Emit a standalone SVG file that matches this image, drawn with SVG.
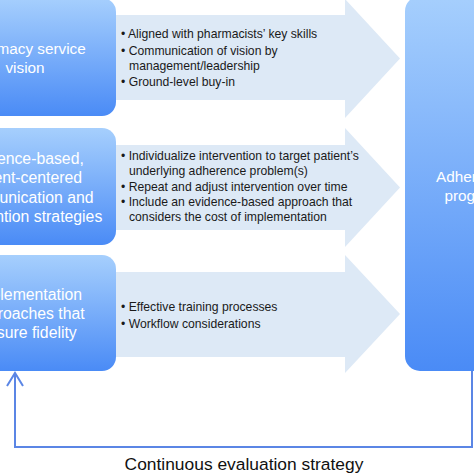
<svg xmlns="http://www.w3.org/2000/svg" width="474" height="474" viewBox="0 0 474 474">
<defs>
<linearGradient id="g" x1="0" y1="0" x2="0" y2="1">
<stop offset="0" stop-color="#a6cffd"/>
<stop offset="1" stop-color="#4a8bf6"/>
</linearGradient>
<style>
.box{fill:url(#g);}
.arr{fill:#dde9f6;}
.bt{font-family:"Liberation Sans",Arial,sans-serif;font-size:15.3px;fill:#ffffff;text-anchor:middle;}
.bt2{font-size:15.8px;}
.li{font-family:"Liberation Sans",Arial,sans-serif;font-size:12.2px;fill:#1a1a1a;}
.con{fill:none;stroke:#5b86e5;stroke-width:2;}
.lab{font-family:"Liberation Sans",Arial,sans-serif;font-size:17.4px;fill:#111111;text-anchor:middle;}
</style>
</defs>
<rect width="474" height="474" fill="#ffffff"/>
<g id="arrow1">
<polygon class="arr" points="100,15 345,15 345,-1 400,58.5 345,118 345,100 100,100"/>
<text class="li"><tspan x="121" y="37.5">• Aligned with pharmacists’ key skills</tspan><tspan x="121" y="54.5">• Communication of vision by</tspan><tspan x="129" y="69.5">management/leadership</tspan><tspan x="121" y="86">• Ground-level buy-in</tspan></text>
</g>
<g id="arrow2">
<polygon class="arr" points="100,145 345,145 345,128 400,187.5 345,247 345,230 100,230"/>
<text class="li"><tspan x="121" y="159.5">• Individualize intervention to target patient’s</tspan><tspan x="129" y="174.5">underlying adherence problem(s)</tspan><tspan x="121" y="190.5">• Repeat and adjust intervention over time</tspan><tspan x="121" y="206">• Include an evidence-based approach that</tspan><tspan x="129" y="221">considers the cost of implementation</tspan></text>
</g>
<g id="arrow3">
<polygon class="arr" points="100,272 345,272 345,255 400,314 345,373 345,357 100,357"/>
<text class="li"><tspan x="121" y="311">• Effective training processes</tspan><tspan x="121" y="328">• Workflow considerations</tspan></text>
</g>
<g id="box1">
<rect class="box" x="-65" y="-2" width="181" height="118" rx="14"/>
<text class="bt"><tspan x="25" y="54">Pharmacy service</tspan><tspan x="25" y="73">vision</tspan></text>
</g>
<g id="box2">
<rect class="box" x="-65" y="128" width="181" height="117" rx="14"/>
<text class="bt bt2"><tspan x="25" y="163.5">Evidence-based,</tspan><tspan x="25" y="183">patient-centered</tspan><tspan x="25" y="202.5">communication and</tspan><tspan x="25" y="222">intervention strategies</tspan></text>
</g>
<g id="box3">
<rect class="box" x="-65" y="255" width="181" height="116" rx="14"/>
<text class="bt bt2"><tspan x="28" y="300">Implementation</tspan><tspan x="28" y="319">approaches that</tspan><tspan x="28" y="338">ensure fidelity</tspan></text>
</g>
<g id="box4">
<rect class="box" x="405" y="-4" width="140" height="375" rx="15"/>
<text class="bt"><tspan x="473" y="182">Adherence</tspan><tspan x="473" y="201">program</tspan></text>
</g>
<g id="connectors">
<path class="con" d="M472,371 V447 H15 V373"/>
<path class="con" d="M7,386 L15,373 L23,386"/>
</g>
<text class="lab" x="244" y="470">Continuous evaluation strategy</text>
</svg>
